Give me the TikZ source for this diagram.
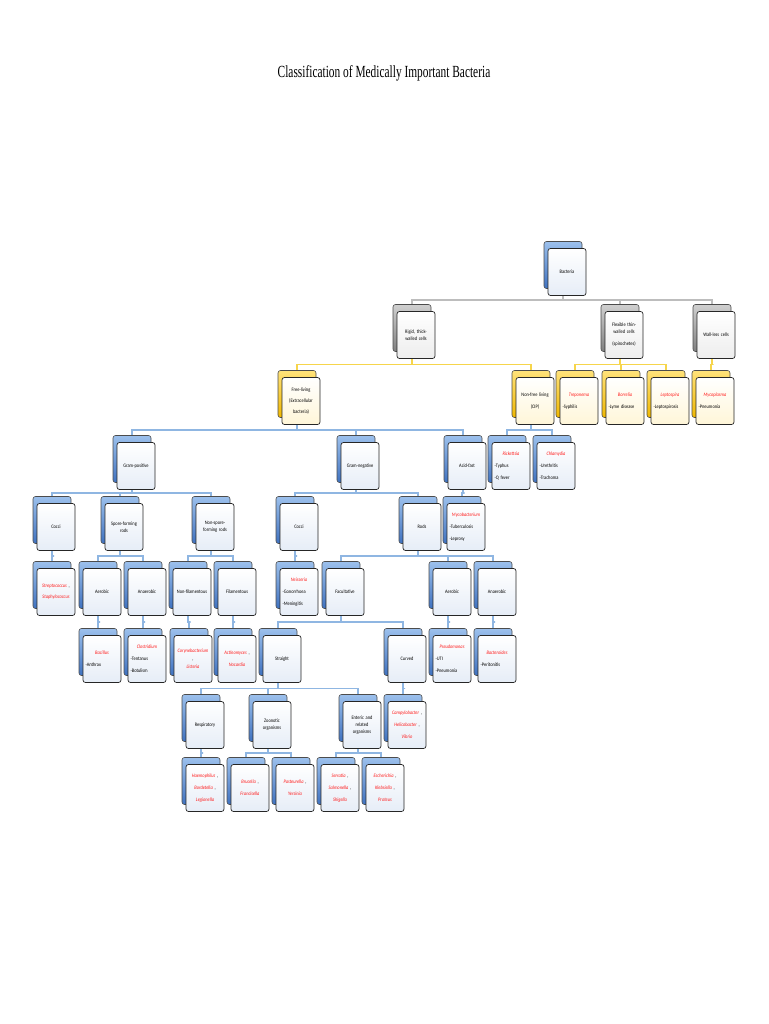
\documentclass[tikz,border=0pt]{standalone}
\usepackage{fontspec}
\setmainfont{Carlito}
\newfontfamily\boxfont[FakeStretch=0.85]{Carlito}
\newfontfamily\titlefont[FakeStretch=0.67]{Liberation Serif}
\usetikzlibrary{calc,backgrounds}
\definecolor{bluetop}{HTML}{9CC0EC}
\definecolor{bluebot}{HTML}{3F72C0}
\definecolor{graytop}{HTML}{D0D0D0}
\definecolor{graybot}{HTML}{808080}
\definecolor{yeltop}{HTML}{FFE27A}
\definecolor{yelbot}{HTML}{F0B800}
\definecolor{frontblue}{HTML}{E6EDF7}
\definecolor{frontgray}{HTML}{EDEDED}
\definecolor{frontyel}{HTML}{FFF6D8}
\definecolor{lnblue}{HTML}{8FB6E2}
\definecolor{lngray}{HTML}{BDBDBD}
\definecolor{lnyel}{HTML}{F6D54C}
\definecolor{gnred}{HTML}{FF1A1A}
\newcommand{\gn}[1]{\textcolor{gnred}{\itshape #1}}
\newcommand{\hd}[1]{\makebox[33pt]{\gn{#1}}}
\tikzset{
  frontbase/.style={rectangle, rounded corners=2.5pt, draw=black!85, line width=0.7pt,
    minimum width=38pt, minimum height=47pt, text width=33pt, align=center, inner sep=0pt,
    font=\boxfont\fontsize{5.2}{7}\selectfont},
  backbase/.style={rectangle, rounded corners=2.5pt, draw=black!70, line width=0.6pt,
    minimum width=38pt, minimum height=47pt, inner sep=0pt},
  fblue/.style={frontbase, top color=white, bottom color=frontblue},
  fgray/.style={frontbase, top color=white, bottom color=frontgray},
  fyel/.style={frontbase, top color=white, bottom color=frontyel},
  bblue/.style={backbase, top color=bluetop, bottom color=bluebot},
  bgray/.style={backbase, top color=graytop, bottom color=graybot},
  byel/.style={backbase, top color=yeltop, bottom color=yelbot},
  lblue/.style={draw=lnblue, line width=1.3pt},
  lgray/.style={draw=lngray, line width=1.3pt},
  lyel/.style={draw=lnyel, line width=1.3pt},
  lft/.style={align=left},
}
% #1 name, #2 x, #3 y, #4 colour set, #5 extra opts, #6 text
\newcommand{\cbox}[6]{%
  \node[b#4] (#1-back) at (#2-4,#3-7) {};
  \node[f#4,#5] (#1) at (#2,#3) {#6};}
\newcommand{\link}[3]{%
  \coordinate (m) at ($(#2.south)!.5!(#3-back.north)$);
  \draw[#1] (#2-back.south) |- (m) -| (#3-back.north);}
\begin{document}
\begin{tikzpicture}[x=1pt,y=-1pt]
\useasboundingbox (0,0) rectangle (768,1024);
\node (title) at (384,73) {\titlefont\fontsize{17}{20}\selectfont Classification of Medically Important Bacteria};
% level 1
\cbox{bac}{567}{272}{blue}{}{Bacteria}
% level 2
\cbox{rigid}{416}{335}{gray}{}{Rigid, thick-\\walled cells}
\cbox{flex}{624}{335}{gray}{}{Flexible thin-\\walled cells\\[5pt](spirochetes)}
\cbox{wall}{716}{335}{gray}{}{Wall-less cells}
% level 3
\cbox{free}{301}{401}{yel}{}{Free-living\\[4pt](Extracellular\\[4pt]bacteria)}
\cbox{nonfree}{535}{401}{yel}{}{Non-free living\\[5pt](CIP)}
\cbox{trep}{579}{401}{yel}{lft}{\hd{Treponema}\\[5pt]-Syphilis}
\cbox{borr}{625}{401}{yel}{lft}{\hd{Borrelia}\\[5pt]-Lyme disease}
\cbox{lept}{670}{401}{yel}{lft}{\hd{Leptospira}\\[5pt]-Leptospirosis}
\cbox{mycopl}{715}{401}{yel}{lft}{\hd{Mycoplasma}\\[5pt]-Pneumonia}
% level 4
\cbox{gpos}{136}{466}{blue}{}{Gram-positive}
\cbox{gneg}{360}{466}{blue}{}{Gram-negative}
\cbox{acid}{467}{466}{blue}{}{Acid-fast}
\cbox{rick}{511}{466}{blue}{lft}{\hd{Rickettsia}\\[5pt]-Typhus\\[5pt]-Q fever}
\cbox{chla}{556}{466}{blue}{lft}{\hd{Chlamydia}\\[5pt]-Urethritis\\[5pt]-Trachoma}
% level 5
\cbox{gpcoc}{56}{527}{blue}{}{Cocci}
\cbox{spore}{124}{527}{blue}{}{Spore-forming\\rods}
\cbox{nspore}{215}{527}{blue}{}{Non-spore-\\forming rods}
\cbox{gncoc}{299}{527}{blue}{}{Cocci}
\cbox{rods}{422}{527}{blue}{}{Rods}
\cbox{mybact}{466}{527}{blue}{lft}{\hd{Mycobacterium}\\[5pt]-Tuberculosis\\[5pt]-Leprosy}
% level 6
\cbox{strep}{56}{592}{blue}{}{\gn{Streptococcus} ,\\[4pt]\gn{Staphylococcus}}
\cbox{aerA}{102}{592}{blue}{}{Aerobic}
\cbox{anaA}{147}{592}{blue}{}{Anaerobic}
\cbox{nfil}{192}{592}{blue}{}{Non-filamentous}
\cbox{fil}{237}{592}{blue}{}{Filamentous}
\cbox{neis}{299}{592}{blue}{lft}{\hd{Neisseria}\\[5pt]-Gonorrhoea\\[5pt]-Meningitis}
\cbox{facu}{345}{592}{blue}{}{Facultative}
\cbox{aerB}{452}{592}{blue}{}{Aerobic}
\cbox{anaB}{497}{592}{blue}{}{Anaerobic}
% level 7
\cbox{baci}{102}{659}{blue}{lft}{\hd{Bacillus}\\[5pt]-Anthrax}
\cbox{clos}{147}{659}{blue}{lft}{\hd{Clostridium}\\[5pt]-Tentanus\\[5pt]-Botulism}
\cbox{cory}{193}{659}{blue}{}{\gn{Corynebacterium}\\[1pt],\\[1pt]\gn{Listeria}}
\cbox{acti}{237}{659}{blue}{}{\gn{Actinomyces} ,\\[5pt]\gn{Nocardia}}
\cbox{strai}{282}{659}{blue}{}{Straight}
\cbox{curv}{407}{659}{blue}{}{Curved}
\cbox{pseu}{452}{659}{blue}{lft}{\hd{Pseudomonas}\\[5pt]-UTI\\[5pt]-Pneumonia}
\cbox{bacte}{497}{659}{blue}{lft}{\hd{Bacteroides}\\[5pt]-Peritonitis}
% level 8
\cbox{resp}{205}{725}{blue}{}{Respiratory}
\cbox{zoo}{272}{725}{blue}{}{Zoonotic\\organisms}
\cbox{ente}{362}{725}{blue}{}{Enteric and\\related\\organisms}
\cbox{camp}{407}{725}{blue}{}{\gn{Campylobacter} ,\\[5pt]\gn{Helicobacter} ,\\[5pt]\gn{Vibrio}}
% level 9
\cbox{haem}{205}{788}{blue}{}{\gn{Haemophilus} ,\\[5pt]\gn{Bordetella} ,\\[5pt]\gn{Legionella}}
\cbox{bruc}{250}{788}{blue}{}{\gn{Brucella} ,\\[5pt]\gn{Francisella}}
\cbox{past}{295}{788}{blue}{}{\gn{Pasteurella} ,\\[5pt]\gn{Yersinia}}
\cbox{serr}{340}{788}{blue}{}{\gn{Serratia} ,\\[5pt]\gn{Salmonella} ,\\[5pt]\gn{Shigella}}
\cbox{esch}{385}{788}{blue}{}{\gn{Escherichia} ,\\[5pt]\gn{Klebsiella} ,\\[5pt]\gn{Proteus}}
% connectors
\begin{scope}[on background layer]
\link{lgray}{bac}{rigid}
\link{lgray}{bac}{flex}
\link{lgray}{bac}{wall}
\link{lyel}{rigid}{free}
\link{lyel}{rigid}{nonfree}
\link{lyel}{flex}{trep}
\link{lyel}{flex}{borr}
\link{lyel}{flex}{lept}
\link{lyel}{wall}{mycopl}
\link{lblue}{free}{gpos}
\link{lblue}{free}{gneg}
\link{lblue}{free}{acid}
\link{lblue}{nonfree}{rick}
\link{lblue}{nonfree}{chla}
\link{lblue}{gpos}{gpcoc}
\link{lblue}{gpos}{spore}
\link{lblue}{gpos}{nspore}
\link{lblue}{gneg}{gncoc}
\link{lblue}{gneg}{rods}
\link{lblue}{acid}{mybact}
\link{lblue}{gpcoc}{strep}
\link{lblue}{spore}{aerA}
\link{lblue}{spore}{anaA}
\link{lblue}{nspore}{nfil}
\link{lblue}{nspore}{fil}
\link{lblue}{gncoc}{neis}
\link{lblue}{rods}{facu}
\link{lblue}{rods}{aerB}
\link{lblue}{rods}{anaB}
\link{lblue}{aerA}{baci}
\link{lblue}{anaA}{clos}
\link{lblue}{nfil}{cory}
\link{lblue}{fil}{acti}
\link{lblue}{facu}{strai}
\link{lblue}{facu}{curv}
\link{lblue}{aerB}{pseu}
\link{lblue}{anaB}{bacte}
\link{lblue}{strai}{resp}
\link{lblue}{strai}{zoo}
\link{lblue}{strai}{ente}
\link{lblue}{curv}{camp}
\link{lblue}{resp}{haem}
\link{lblue}{zoo}{bruc}
\link{lblue}{zoo}{past}
\link{lblue}{ente}{serr}
\link{lblue}{ente}{esch}
\end{scope}
\end{tikzpicture}
\end{document}
